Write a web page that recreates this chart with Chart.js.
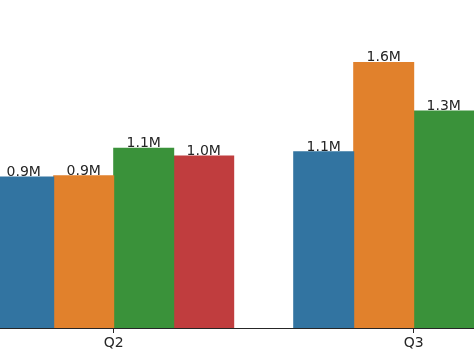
<!DOCTYPE html>
<html>
<head>
<meta charset="utf-8">
<script src="https://cdn.jsdelivr.net/npm/chart.js@4"></script>
<style>
  html, body { margin: 0; padding: 0; background: #fff; }
  #wrap { width: 474px; height: 355px; }
</style>
</head>
<body>
<div id="wrap"><canvas id="chart"></canvas></div>
<script>
// Datos visibles (recorte del gráfico: sólo Q2 y Q3)
const quarters = ['Q2', 'Q3'];
const serieA = [910000, 1062000];
const serieB = [917000, 1600000];
const serieC = [1083000, 1307000];
const serieD = [1036000, null];
const colores = ['#3274a1', '#e1812c', '#3a923a', '#c03d3e'];

const series = [serieA, serieB, serieC, serieD];

// Etiquetas de valor encima de cada barra
const etiquetas = {
    id: 'etiquetas',
    afterDatasetsDraw(chart) {
        const ctx = chart.ctx;
        ctx.save();
        ctx.font = '14px "DejaVu Sans"';
        ctx.fillStyle = '#262626';
        ctx.textAlign = 'center';
        ctx.textBaseline = 'alphabetic';
        chart.data.datasets.forEach((ds, i) => {
            const meta = chart.getDatasetMeta(i);
            meta.data.forEach((bar, j) => {
                const v = ds.data[j].y;
                if (v == null) return;
                ctx.fillText((v / 1e6).toFixed(1) + 'M', bar.x, bar.y - 1);
            });
        });
        ctx.restore();
    }
};

new Chart(document.getElementById('chart'), {
    type: 'bar',
    data: {
        datasets: series.map((s, i) => ({
            label: 'Serie ' + (i + 1),
            data: s.map((v, j) => ({ x: j, y: v })),
            backgroundColor: colores[i],
            borderWidth: 0,
            inflateAmount: 0.5,
            categoryPercentage: 0.8,
            barPercentage: 1.0
        }))
    },
    options: {
        responsive: true,
        maintainAspectRatio: false,
        animation: false,
        layout: { padding: 0 },
        plugins: {
            legend: { display: false },
            tooltip: { enabled: false }
        },
        scales: {
            x: {
                type: 'linear',
                offset: false,
                min: -0.379,
                max: 1.201,
                afterBuildTicks: axis => { axis.ticks = quarters.map((q, i) => ({ value: i })); },
                afterFit: axis => { axis.height = 27; },
                ticks: {
                    callback: v => quarters[v],
                    font: { family: 'DejaVu Sans', size: 14 },
                    color: '#262626',
                    padding: 2,
                    maxRotation: 0,
                    autoSkip: false
                },
                grid: {
                    display: true,
                    offset: false,
                    drawOnChartArea: false,
                    drawTicks: true,
                    tickLength: 5,
                    color: '#262626'
                },
                border: { display: true, color: '#262626', width: 1 }
            },
            y: {
                display: false,
                min: 0,
                max: 1976000
            }
        }
    },
    plugins: [etiquetas]
});
</script>
</body>
</html>
